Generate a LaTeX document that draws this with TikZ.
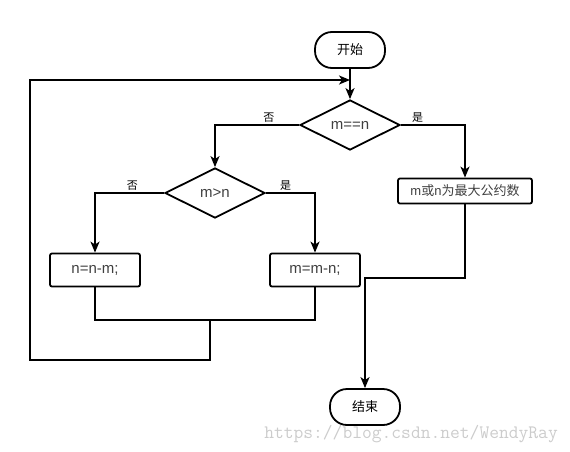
\documentclass[tikz,border=0pt]{standalone}
\usepackage{fontspec}
\setmainfont{Liberation Sans}
\newfontfamily\cjk{Noto Sans CJK SC}
\usepackage{tikz}
\usetikzlibrary{arrows.meta,shapes.geometric}

\tikzset{
	term/.style={draw,line width=1.8pt,rounded corners=17pt,minimum width=70pt,minimum height=36pt,font=\cjk\fontsize{13}{15}\selectfont},
	cond/.style={draw,diamond,aspect=2,inner sep=0pt,line width=1.8pt,minimum width=100pt,minimum height=50pt,text=black!75,font=\fontsize{15}{17}\selectfont},
	proc/.style={draw,line width=1.8pt,rounded corners=2pt,minimum width=90pt,minimum height=33pt,text=black!75,font=\fontsize{15}{17}\selectfont},
	lbl/.style={font=\cjk\fontsize{11}{13}\selectfont,inner sep=2pt},
	flow/.style={line width=1.8pt,-{Stealth[length=11pt,width=9pt,inset=3pt]}},
	wire/.style={line width=1.8pt}
}

\begin{document}
\begin{tikzpicture}[x=1pt,y=-1pt]
	\useasboundingbox (0,0) rectangle (570,452);

	\node[term] (start) at (350,50) {开始};
	\node[cond] (eq) at (350,125) {m==n};
	\node[cond] (gt) at (215,193) {m>n};
	\node[proc,minimum width=134pt,minimum height=25pt,font=\fontsize{13}{15}\selectfont] (res) at (465,191) {m{\cjk 或}n{\cjk 为最大公约数}};
	\node[proc] (nsub) at (95,270) {n=n-m;};
	\node[proc] (msub) at (315,270) {m=m-n;};
	\node[term] (stop) at (365,407) {结束};

	\coordinate(back) at (350,80);
	\coordinate(join) at (210,320);
	\coordinate(lb) at (30,360);
	\coordinate(lt) at (30,80);
	\coordinate(turn) at (365,278);

	\draw[flow] (start) -- (eq);
	\draw[flow] (eq.west) -| (gt.north) node[pos=0.18,above,lbl]{否};
	\draw[flow] (eq.east) -| (res.north) node[pos=0.13,above,lbl]{是};
	\draw[flow] (gt.west) -| (nsub.north) node[pos=0.23,above,lbl]{否};
	\draw[flow] (gt.east) -| (msub.north) node[pos=0.2,above,lbl]{是};
	\draw[wire] (nsub.south) |- (msub.south |- join) -- (msub.south);
	\draw[flow] (join) |- (lb) -- (lt) -- (back);
	\draw[flow] (res.south) |- (turn) -- (stop.north);

	\node[text=gray!40,font=\ttfamily\fontsize{19}{21}\selectfont,anchor=base east,inner sep=0pt] (mark) at (558,438) {https://blog.csdn.net/WendyRay};
\end{tikzpicture}
\end{document}
